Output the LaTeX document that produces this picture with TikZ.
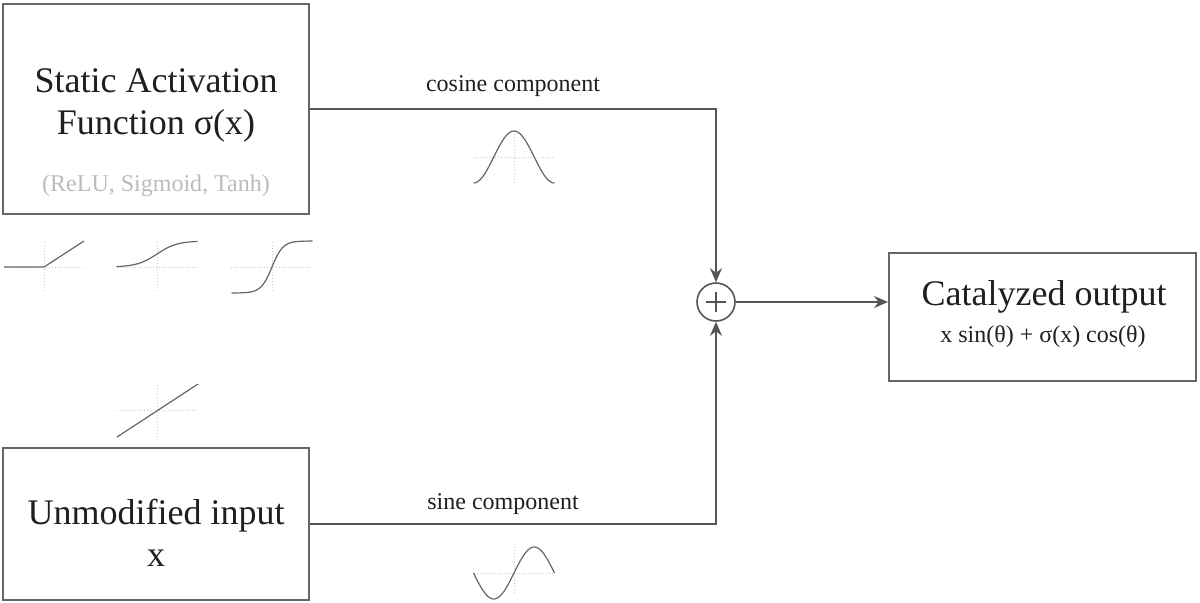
\documentclass[tikz,border=0pt]{standalone}
\usepackage{fontspec}
\setmainfont{Liberation Serif}
\usepackage{xcolor}
\usepackage{tikz}
\usetikzlibrary{arrows.meta}
\usetikzlibrary{positioning}

\definecolor{edgegray}{HTML}{666666}
\definecolor{linegray}{HTML}{555555}
\definecolor{notegray}{HTML}{BBBBBB}
\definecolor{axisgray}{HTML}{C8C8C8}

\begin{document}
\begin{tikzpicture}[x=0.5pt,y=-0.5pt,
  box/.style={draw=edgegray,line width=1pt,minimum width=153pt,inner sep=0pt},
  bigtext/.style={font=\fontsize{18}{21}\selectfont,text=black!88,anchor=base,inner sep=0pt},
  smalltext/.style={font=\fontsize{12}{14}\selectfont,text=black!88,anchor=base,inner sep=0pt},
  conn/.style={draw=linegray,line width=0.8pt},
  tip/.style={-{Stealth[length=7pt,width=6pt]}},
  axis/.style={draw=axisgray,line width=0.5pt,densely dotted},
  curve/.style={draw=black!60,line width=0.6pt}]
\useasboundingbox (0,0) rectangle (1200,602);

% boxes
\node[box,minimum height=105pt] (act) at (156,109) {};
\node[box,minimum height=76pt] (inp) at (156,524) {};
\node[box,minimum width=153.5pt,minimum height=64pt] (out) at (1042.5,317) {};
\node[circle,draw=linegray,line width=0.8pt,minimum size=19pt,inner sep=0pt] (sum) at (716,302) {};
\draw[linegray,line width=0.8pt] (sum.center) +(-10,0) -- +(10,0) +(0,-10) -- +(0,10);

% texts
\node[bigtext] (actname) at (156,92) {Static Activation};
\node[bigtext] (actfun) at (156,134) {Function σ(x)};
\node[smalltext,text=notegray] (actlist) at (156,191) {(ReLU, Sigmoid, Tanh)};
\node[bigtext] (inpname) at (156,524) {Unmodified input};
\node[bigtext] (inpvar) at (156,566) {x};
\node[bigtext] (outname) at (1044,305) {Catalyzed output};
\node[smalltext] (outformula) at (1043,342) {x sin(θ) + σ(x) cos(θ)};
\node[smalltext] (coslabel) at (513,91) {cosine component};
\node[smalltext] (sinlabel) at (503,509) {sine component};

% connectors
\draw[conn,tip] (act.east) -| (sum.north);
\draw[conn,tip] (inp.east) -| (sum.south);
\draw[conn,tip] (sum.east) -- (sum.east -| out.west);

% cosine sketch
\draw[axis] (474,157) -- (555,157) (514,131) -- (514,184);
\draw[curve] plot[domain=-40.5:40.5,samples=60,smooth] ({514+\x},{157-26*cos(\x*180/40.5)});
% sine sketch
\draw[axis] (474,573) -- (555,573) (514,547) -- (514,594);
\draw[curve] plot[domain=-40.5:40.5,samples=60,smooth] ({514+\x},{573-26*sin(\x*180/40.5)});

% relu
\draw[axis] (4,267) -- (84,267) (44,242) -- (44,293);
\draw[curve] (4,267) -- (44,267) -- (84,241);
% sigmoid
\draw[axis] (117,267) -- (198,267) (157,242) -- (157,293);
\draw[curve] plot[domain=-40.5:40.5,samples=50,smooth] ({157+\x},{267-26/(1+exp(-\x/10))});
% tanh
\draw[axis] (231,267) -- (312,267) (272,242) -- (272,293);
\draw[curve] plot[domain=-40.5:40.5,samples=60,smooth] ({272+\x},{267-26*tanh(\x/11)});
% identity
\draw[axis] (117,410) -- (198,410) (157,385) -- (157,437);
\draw[curve] (117,437) -- (198,384);
\end{tikzpicture}
\end{document}
